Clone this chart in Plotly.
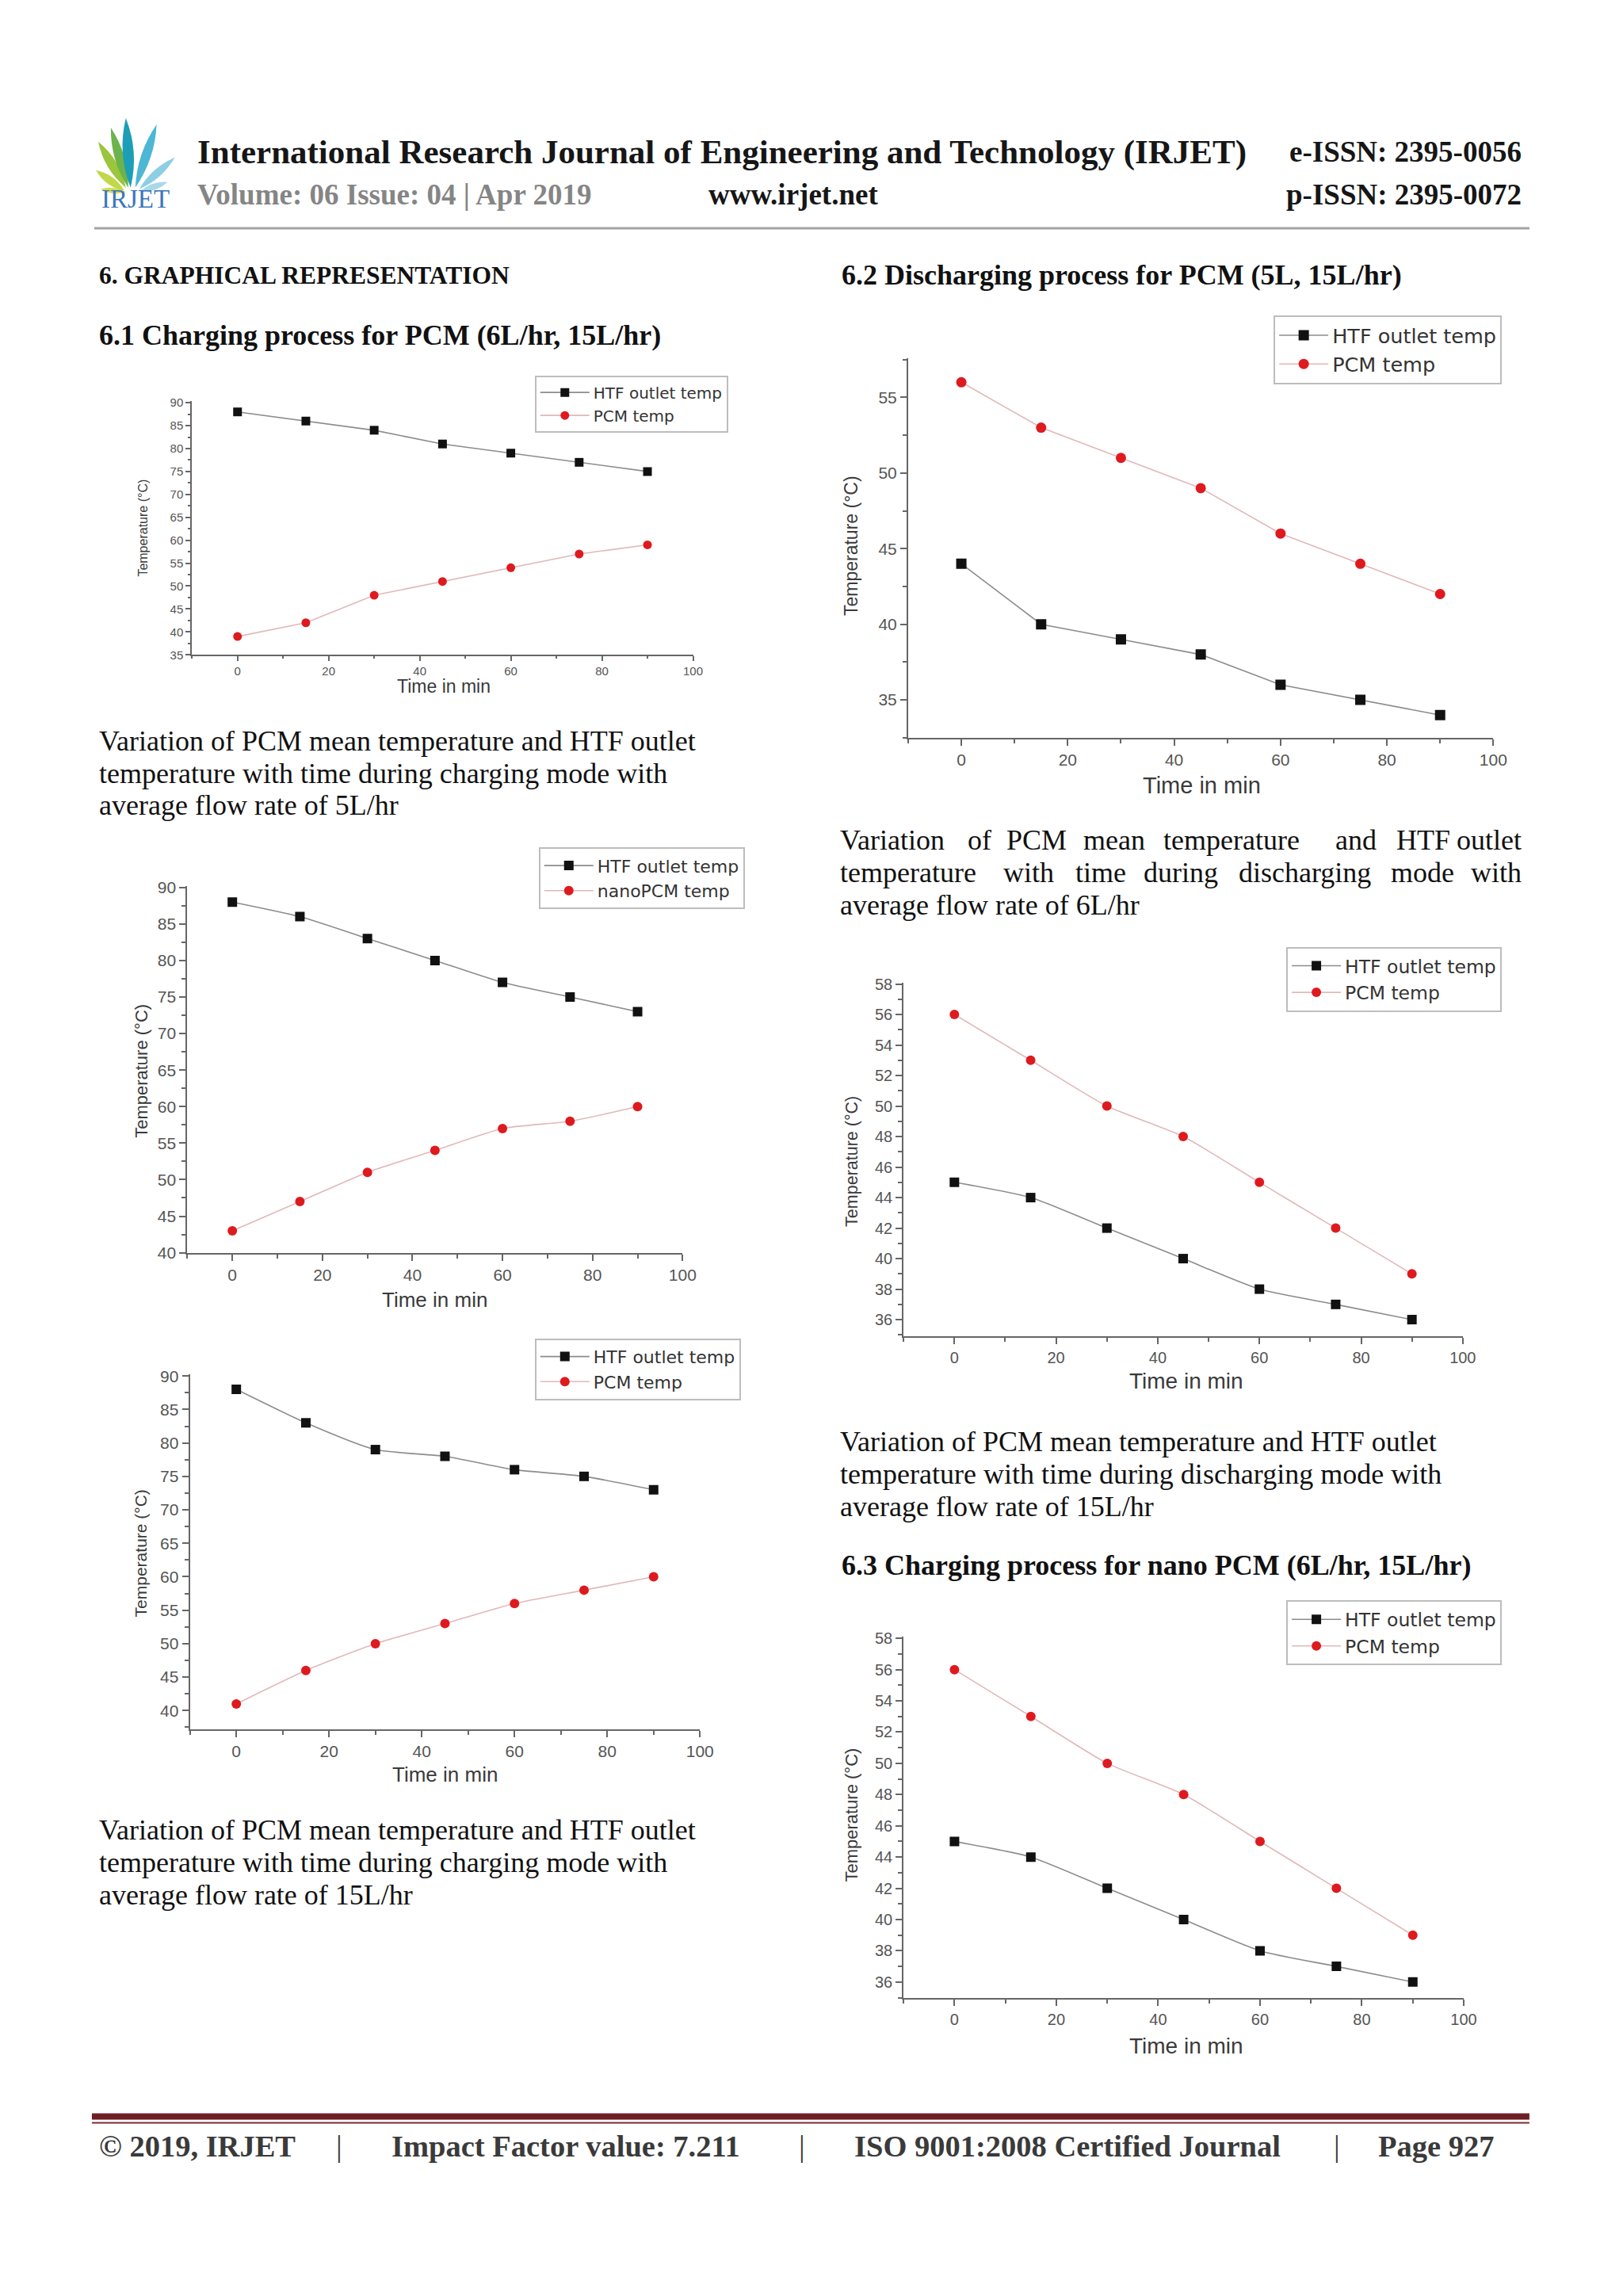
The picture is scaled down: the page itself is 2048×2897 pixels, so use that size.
import math
import plotly.graph_objects as go

W, H = 2048, 2897

# ---------------- data ----------------
time_min = [0, 15, 30, 45, 60, 75, 90]
htf_name = "HTF outlet temp"
pcm_name = "PCM temp"
nano_name = "nanoPCM temp"

# 6.1 charging, 5 L/hr
c1_htf = [88, 86, 84, 81, 79, 77, 75]
c1_pcm = [39, 42, 48, 51, 54, 57, 59]
# charging, nano PCM
c2_htf = [88, 86, 83, 80, 77, 75, 73]
c2_nano = [43, 47, 51, 54, 57, 58, 60]
# charging, 15 L/hr
c3_htf = [88, 83, 79, 78, 76, 75, 73]
c3_pcm = [41, 46, 50, 53, 56, 58, 60]
# 6.2 discharging, 6 L/hr
c4_htf = [44, 40, 39, 38, 36, 35, 34]
c4_pcm = [56, 53, 51, 49, 46, 44, 42]
# discharging, 15 L/hr
c5_htf = [45, 44, 42, 40, 38, 37, 36]
c5_pcm = [56, 53, 50, 48, 45, 42, 39]
# 6.3 charging nano PCM
c6_htf = [45, 44, 42, 40, 38, 37, 36]
c6_pcm = [56, 53, 50, 48, 45, 42, 39]

x_tick_step = 20
x_title = "Time in min"
y_title = "Temperature (°C)"


def cx(px):
    return px + 9 * (px - 120) / 1818


def cy(py):
    return py - 8 * max(0.0, (2600 - py)) / 2450


def fx(px):
    return cx(px) / W


def fy(py):
    return 1 - cy(py) / H


panels = [
    dict(htf=c1_htf, pcm=c1_pcm, pcm_label=pcm_name,
         box=(243.8, 506, 878.5, 828), yrange=[35, 90.45], ydtick=5,
         tick_size=15, ticklen=6, xt=(563, 868, 23), yt=(182, 667, 16),
         leg=(678, 474, 20), msize=11, shape="linear"),
    dict(htf=c2_htf, pcm=c2_nano, pcm_label=nano_name,
         box=(237.9, 1120.8, 865.3, 1585.4), yrange=[40, 90.2], ydtick=5,
         tick_size=21, ticklen=8, xt=(551, 1645, 26), yt=(179, 1355, 22),
         leg=(683, 1072, 22), msize=12, shape="spline"),
    dict(htf=c3_htf, pcm=c3_pcm, pcm_label=pcm_name,
         box=(241.2, 1739.9, 887.3, 2189.2), yrange=[37.2, 90.2], ydtick=5,
         tick_size=21, ticklen=8, xt=(564, 2246, 26), yt=(179, 1966, 21),
         leg=(678, 1694, 22), msize=12, shape="spline"),
    dict(htf=c4_htf, pcm=c4_pcm, pcm_label=pcm_name,
         box=(1151, 452, 1892.3, 933), yrange=[32.5, 57.6], ydtick=5,
         tick_size=21, ticklen=8, xt=(1523, 993, 29), yt=(1079, 690, 23),
         leg=(1614, 398, 25.5), msize=13, shape="linear"),
    dict(htf=c5_htf, pcm=c5_pcm, pcm_label=pcm_name,
         box=(1145.2, 1243, 1853.6, 1691.1), yrange=[34.92, 58.1], ydtick=2,
         tick_size=20, ticklen=8, xt=(1503, 1748, 28), yt=(1079, 1470, 21.5),
         leg=(1630, 1198, 23.5), msize=12, shape="spline"),
    dict(htf=c6_htf, pcm=c6_pcm, pcm_label=pcm_name,
         box=(1145.2, 2072, 1854.8, 2529.1), yrange=[35.0, 58.1], ydtick=2,
         tick_size=20, ticklen=8, xt=(1503, 2590, 28), yt=(1079, 2298, 22),
         leg=(1630, 2026, 23.5), msize=12, shape="spline"),
]

fig = go.Figure()
layout = {}
annotations = []
shapes = []

AX = "#666666"
SANS = "Liberation Sans"
LEGF = "DejaVu Sans"
SERIF = "Liberation Serif"

for i, p in enumerate(panels, start=1):
    s = "" if i == 1 else str(i)
    x0, y0, x1, y1 = p["box"]
    fig.add_trace(go.Scatter(
        x=time_min, y=p["htf"], mode="lines+markers", name=htf_name,
        xaxis="x" + s, yaxis="y" + s, legend="legend" + s,
        marker=dict(symbol="square", size=p["msize"], color="#111111"),
        line=dict(color="#8c8c8c", width=1.6, shape=p["shape"], smoothing=0.6),
    ))
    fig.add_trace(go.Scatter(
        x=time_min, y=p["pcm"], mode="lines+markers", name=p["pcm_label"],
        xaxis="x" + s, yaxis="y" + s, legend="legend" + s,
        marker=dict(symbol="circle", size=p["msize"], color="#de1a1f"),
        line=dict(color="#e2b8b8", width=1.6, shape=p["shape"], smoothing=0.6),
    ))
    tl = p["ticklen"]
    common = dict(
        tickmode="linear", tick0=0,
        ticks="outside", ticklen=tl, tickwidth=2, tickcolor=AX,
        showline=True, linecolor=AX, linewidth=2, showgrid=False, zeroline=False,
        tickfont=dict(family=SANS, size=p["tick_size"], color="#555555"),
        fixedrange=True,
    )
    layout["xaxis" + s] = dict(
        domain=[fx(x0), fx(x1)], range=[-10, 100], anchor="y" + s,
        dtick=x_tick_step,
        minor=dict(tick0=0, dtick=x_tick_step / 2, ticks="outside", ticklen=tl - 3,
                   tickwidth=1.5, tickcolor=AX),
        **common,
    )
    layout["yaxis" + s] = dict(
        domain=[fy(y1), fy(y0)], range=p["yrange"], anchor="x" + s,
        dtick=p["ydtick"],
        minor=dict(tick0=0, dtick=p["ydtick"] / 2, ticks="outside", ticklen=tl - 3,
                   tickwidth=1.5, tickcolor=AX),
        **common,
    )
    lx, ly, lsz = p["leg"]
    layout["legend" + s] = dict(
        x=fx(lx), y=fy(ly), xanchor="left", yanchor="top",
        xref="paper", yref="paper",
        bgcolor="white", bordercolor="#bdbdbd", borderwidth=2,
        font=dict(family=LEGF, size=lsz, color="#333333"),
        itemwidth=62, tracegroupgap=0,
    )
    tx, ty, tsz = p["xt"]
    annotations.append(dict(
        x=fx(tx), y=fy(ty), xref="paper", yref="paper", text=x_title,
        showarrow=False, xanchor="center", yanchor="middle",
        font=dict(family=SANS, size=tsz, color="#3a3a3a")))
    vx, vy, vsz = p["yt"]
    annotations.append(dict(
        x=fx(vx), y=fy(vy), xref="paper", yref="paper", text=y_title,
        showarrow=False, xanchor="center", yanchor="middle", textangle=-90,
        font=dict(family=SANS, size=vsz, color="#3a3a3a")))


def txt(x, y, text, size, bold=False, color="#111111", family=SERIF, xanchor="left"):
    if bold:
        text = "<b>" + text + "</b>"
    annotations.append(dict(
        x=fx(x), y=fy(y), xref="paper", yref="paper", text=text,
        showarrow=False, xanchor=xanchor, yanchor="middle",
        font=dict(family=family, size=size, color=color)))


# ---------------- page header ----------------
txt(249, 191, "International Research Journal of Engineering and Technology (IRJET)", 43, True, "#161616")
txt(1930, 191, "e-ISSN: 2395-0056", 37, True, "#161616", xanchor="right")
txt(249, 245, "Volume: 06 Issue: 04 | Apr 2019", 37, True, "#858585")
txt(896, 245, "www.irjet.net", 37, True, "#161616")
txt(1930, 245, "p-ISSN: 2395-0072", 37, True, "#161616", xanchor="right")
txt(172, 250, "IRJET", 33, False, "#3d76bb", xanchor="center")

shapes.append(dict(type="rect", xref="paper", yref="paper",
                   x0=fx(120), x1=fx(1938), y0=fy(289), y1=fy(286),
                   fillcolor="#a3a3a3", line=dict(width=0)))


def leaf(bx, by, tx_, ty_, w, color):
    mx, my = (bx + tx_) / 2, (by + ty_) / 2
    dx, dy = tx_ - bx, ty_ - by
    L = math.hypot(dx, dy)
    nx, ny = -dy / L, dx / L
    c1 = (mx + nx * w, my + ny * w)
    c2 = (mx - nx * w, my - ny * w)
    path = (f"M {fx(bx):.5f} {fy(by):.5f} Q {fx(c1[0]):.5f} {fy(c1[1]):.5f} "
            f"{fx(tx_):.5f} {fy(ty_):.5f} Q {fx(c2[0]):.5f} {fy(c2[1]):.5f} "
            f"{fx(bx):.5f} {fy(by):.5f} Z")
    shapes.append(dict(type="path", path=path, xref="paper", yref="paper",
                       fillcolor=color, line=dict(width=0)))


leaf(160, 242, 128, 238, 7, "#d2dc5a")
leaf(158, 240, 122, 214, 10, "#c0d84a")
leaf(160, 236, 125, 178, 12, "#9bc53d")
leaf(163, 236, 141, 160, 12, "#6db34b")
leaf(166, 236, 160, 148, 14, "#1c9fb6")
leaf(172, 236, 199, 156, 12, "#4db7d5")
leaf(177, 238, 222, 198, 10, "#8ccfe5")
leaf(178, 241, 213, 229, 8, "#a8d9ea")

# ---------------- headings & captions ----------------
BODY = 36
txt(124, 347, "6. GRAPHICAL REPRESENTATION", 31.5, True)
txt(124, 423, "6.1 Charging process for PCM (6L/hr, 15L/hr)", 36, True)
txt(1065, 347, "6.2 Discharging process for PCM (5L, 15L/hr)", 36, True)
txt(1065, 1981, "6.3 Charging process for nano PCM (6L/hr, 15L/hr)", 36, True)

cap1 = ["Variation of PCM mean temperature and HTF outlet",
        "temperature with time during charging mode with",
        "average flow rate of 5L/hr"]
cap3 = ["Variation of PCM mean temperature and HTF outlet",
        "temperature with time during charging mode with",
        "average flow rate of 15L/hr"]
cap4 = ["Variation of PCM mean temperature and HTF outlet",
        "temperature with time during discharging mode with",
        "average flow rate of 15L/hr"]
for k, line in enumerate(cap1):
    txt(124, 937 + 41 * k, line, BODY)
for k, line in enumerate(cap3):
    txt(124, 2317 + 41 * k, line, BODY)
for k, line in enumerate(cap4):
    txt(1063, 1825 + 41 * k, line, BODY)

# justified caption (right column, top)
cap2_l1 = [("Variation", 1063), ("of", 1224), ("PCM", 1274), ("mean", 1371),
           ("temperature", 1472), ("and", 1690), ("HTF", 1767)]
cap2_l2 = [("temperature", 1063), ("with", 1270), ("time", 1361), ("during", 1447),
           ("discharging", 1568), ("mode", 1760)]
for w_, x_ in cap2_l1:
    txt(x_, 1063, w_, BODY)
txt(1930, 1063, "outlet", BODY, xanchor="right")
for w_, x_ in cap2_l2:
    txt(x_, 1104, w_, BODY)
txt(1930, 1104, "with", BODY, xanchor="right")
txt(1063, 1145, "average flow rate of 6L/hr", BODY)

# ---------------- footer ----------------
shapes.append(dict(type="rect", xref="paper", yref="paper",
                   x0=fx(117), x1=fx(1938), y0=fy(2684), y1=fy(2676),
                   fillcolor="#6d1f25", line=dict(width=0)))
shapes.append(dict(type="rect", xref="paper", yref="paper",
                   x0=fx(117), x1=fx(1938), y0=fy(2689), y1=fy(2687),
                   fillcolor="#7b2c31", line=dict(width=0)))
FOOT = 38.5
FC = "#3a3a3a"
txt(124, 2718, "© 2019, IRJET", FOOT, True, FC)
txt(430, 2718, "|", FOOT, False, FC, xanchor="center")
txt(495, 2718, "Impact Factor value: 7.211", FOOT, True, FC)
txt(1017, 2718, "|", FOOT, False, FC, xanchor="center")
txt(1081, 2718, "ISO 9001:2008 Certified Journal", FOOT, True, FC)
txt(1694, 2718, "|", FOOT, False, FC, xanchor="center")
txt(1744, 2718, "Page 927", FOOT, True, FC)

fig.update_layout(
    width=W, height=H, autosize=False,
    margin=dict(l=0, r=0, t=0, b=0, pad=0),
    paper_bgcolor="white", plot_bgcolor="white",
    showlegend=True,
    annotations=annotations, shapes=shapes,
    **layout,
)

fig.write_html("out.html",
               config={"displayModeBar": False},
               post_script="document.body.style.margin='0';document.body.style.overflow='hidden';")
